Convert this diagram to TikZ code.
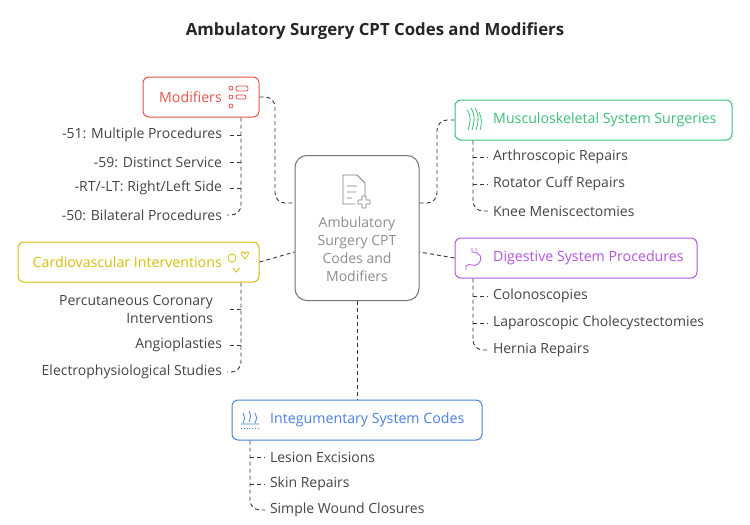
\documentclass[tikz,border=0pt]{standalone}
\usepackage{fontspec}
\setmainfont{Open Sans}
\usetikzlibrary{positioning}
\definecolor{modred}{HTML}{E5534B}
\definecolor{cardyel}{HTML}{D8BE0A}
\definecolor{musgrn}{HTML}{3DBE78}
\definecolor{digpur}{HTML}{B556DE}
\definecolor{intblu}{HTML}{4C80DE}
\definecolor{txtgray}{HTML}{444444}
\tikzset{
	% category box
	catbox/.style={draw=#1,text=#1,fill=white,rounded corners=6pt,line width=1pt,minimum height=40pt,inner sep=0pt},
	cattxt/.style={text=#1,inner sep=0pt,font=\fontsize{14.2}{16}\selectfont},
	% list entry
	item/.style={text=txtgray,inner sep=0pt,outer sep=5pt,font=\fontsize{14}{18}\selectfont,align=right},
	% dashed connector
	link/.style={draw=black!80,dash pattern=on 4pt off 3pt,line width=0.9pt,rounded corners=10pt},
}
\begin{document}
\begin{tikzpicture}[x=1pt,y=-1pt]
\useasboundingbox (0,0) rectangle (750,525);
% title
\node[font=\bfseries\fontsize{16.8}{20}\selectfont,text=black!85] (title) at (375,31) {Ambulatory Surgery CPT Codes and Modifiers};
% center box
\node[draw=black!55,rounded corners=12pt,line width=1pt,minimum width=124pt,minimum height=145pt] (hub) at (357,228) {};
\node[text=black!45,align=center,font=\fontsize{14}{18}\selectfont] (hubtxt) at (357,249) {Ambulatory\\Surgery CPT\\Codes and\\Modifiers};
\draw[black!50,line width=0.9pt,line join=round] (343,175) -- (357,175) -- (365,183) -- (365,195) (343,175) -- (343,204) -- (355,204)
  (347,186) -- (357,186) (347,192) -- (356,192) (347,198) -- (352,198)
  (362,196) -- (366,196) -- (366,200) -- (370,200) -- (370,204) -- (366,204) -- (366,208) -- (362,208) -- (362,204) -- (358,204) -- (358,200) -- (362,200) -- cycle;
% category boxes
\node[catbox=modred,minimum width=116pt] (modbox) at (201,97) {};
\node[cattxt=modred,anchor=east] (modtxt) at (222,97) {Modifiers};
\draw[modred,line width=0.8pt] (231,88) circle (2pt) (231,97) circle (2pt) (231,106) circle (2pt);
\draw[modred,line width=0.8pt,rounded corners=2pt] (236,86) rectangle (248,91) (236,95) rectangle (246,99);
\node[catbox=cardyel,minimum width=241pt] (cardbox) at (138.5,262) {};
\node[cattxt=cardyel,anchor=east] (cardtxt) at (222,262) {Cardiovascular Interventions};
\draw[cardyel,line width=0.8pt] (232,258) circle (4pt) (233,268) -- (236,272) -- (240,268) (242,255) .. controls (240,251) and (244,251) .. (245,254) .. controls (246,251) and (250,251) .. (248,255) -- (245,259) -- cycle;
\node[catbox=musgrn,minimum width=277pt] (musbox) at (593.5,120) {};
\node[cattxt=musgrn,anchor=west] (mustxt) at (493,120) {Musculoskeletal System Surgeries};
\draw[musgrn,line width=0.8pt] (467,110) .. controls (472,116) and (470,124) .. (468,130) (471,108) .. controls (476,116) and (474,124) .. (472,130) (475,108) .. controls (480,116) and (478,124) .. (476,130) (479,112) .. controls (482,118) and (482,124) .. (480,130);
\node[catbox=digpur,minimum width=242pt] (digbox) at (576,258) {};
\node[cattxt=digpur,anchor=west] (digtxt) at (493,258) {Digestive System Procedures};
\draw[digpur,line width=0.8pt] (472,248) -- (472,252) .. controls (480,252) and (484,258) .. (478,264) .. controls (474,268) and (470,262) .. (466,266) -- (466,270) (476,248) -- (476,251);
\node[catbox=intblu,minimum width=250pt] (intbox) at (357,420) {};
\node[cattxt=intblu,anchor=west] (inttxt) at (270,420) {Integumentary System Codes};
\draw[intblu,line width=0.8pt] (243,413) .. controls (245,418) .. (243,423) (249,411) .. controls (251,416) .. (249,422) (255,413) .. controls (257,418) .. (255,423) (241,424) -- (259,424);
\draw[intblu,line width=0.8pt,dotted] (241,428) -- (259,428);
% list entries
\node[item,anchor=east] (m1) at (227,135) {-51: Multiple Procedures};
\node[item,anchor=east] (m2) at (227,162) {-59: Distinct Service};
\node[item,anchor=east] (m3) at (227,188) {-RT/-LT: Right/Left Side};
\node[item,anchor=east] (m4) at (227,215) {-50: Bilateral Procedures};
\node[item,anchor=east] (c1) at (218,309) {Percutaneous Coronary\\Interventions};
\node[item,anchor=east] (c2) at (227,345) {Angioplasties};
\node[item,anchor=east] (c3) at (227,372) {Electrophysiological Studies};
\node[item,anchor=west] (s1) at (488,157) {Arthroscopic Repairs};
\node[item,anchor=west] (s2) at (488,184) {Rotator Cuff Repairs};
\node[item,anchor=west] (s3) at (488,211) {Knee Meniscectomies};
\node[item,anchor=west] (d1) at (488,296) {Colonoscopies};
\node[item,anchor=west] (d2) at (488,323) {Laparoscopic Cholecystectomies};
\node[item,anchor=west] (d3) at (488,350) {Hernia Repairs};
\node[item,anchor=west] (i1) at (265,457) {Lesion Excisions};
\node[item,anchor=west] (i2) at (265,484) {Skin Repairs};
\node[item,anchor=west] (i3) at (265,510) {Simple Wound Closures};
% hub connectors
\draw[link] (modbox.east) -- (275,97) -- (275,203) -- (hub.west |- 0,203);
\draw[link] (cardbox.east) -- (hub.west |- 0,252);
\draw[link] (musbox.west) -- (437,120) -- (437,203) -- (hub.east |- 0,203);
\draw[link] (digbox.west) -- (hub.east |- 0,252);
\draw[link] (hub.south) -- (intbox.north);
% list connectors
\draw[link] (modbox.south -| 241,0) -- (241,215) -- (m4.east);
\foreach \n in {m1,m2,m3}
  \draw[link] (241,0 |- \n.east) -- (\n.east);
\draw[link] (cardbox.south -| 241,0) -- (241,372) -- (c3.east);
\foreach \n/\y in {c1/309,c2/345}
  \draw[link] (241,\y) -- (229,\y);
\draw[link] (musbox.south -| 473,0) -- (473,211) -- (s3.west);
\foreach \n in {s1,s2}
  \draw[link] (473,0 |- \n.west) -- (\n.west);
\draw[link] (digbox.south -| 473,0) -- (473,350) -- (d3.west);
\foreach \n in {d1,d2}
  \draw[link] (473,0 |- \n.west) -- (\n.west);
\draw[link] (intbox.south -| 250,0) -- (250,510) -- (i3.west);
\foreach \n in {i1,i2}
  \draw[link] (250,0 |- \n.west) -- (\n.west);
\end{tikzpicture}
\end{document}
